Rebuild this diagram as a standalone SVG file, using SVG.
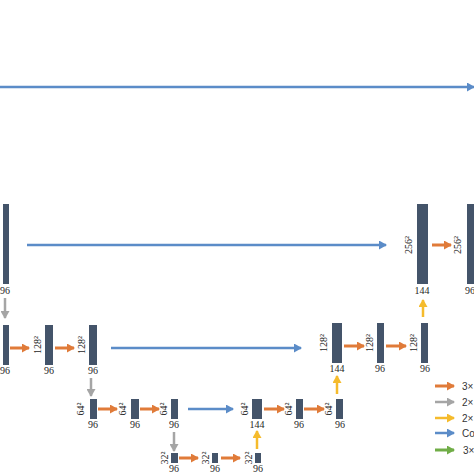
<svg xmlns="http://www.w3.org/2000/svg" width="474" height="474" viewBox="0 0 474 474">
<style>
.bar{fill:#44546a}
.n{font-family:"Liberation Serif",serif;font-size:10px;fill:#262626;text-anchor:middle}
.r{font-family:"Liberation Serif",serif;font-size:10px;fill:#262626;text-anchor:middle}
.lg{font-family:"Liberation Sans",sans-serif;font-size:10px;fill:#333}
.o{stroke:#e07b39;stroke-width:3;marker-end:url(#mo)}
.g{stroke:#a5a5a5;stroke-width:2.5;marker-end:url(#mg)}
.y{stroke:#f5bb2c;stroke-width:2.5;marker-end:url(#my)}
.b{stroke:#5b8cc8;stroke-width:2.5;marker-end:url(#mb)}
.gr{stroke:#70ad47;stroke-width:3;marker-end:url(#mgr)}
</style>
<defs>
<marker id="mo" markerUnits="userSpaceOnUse" markerWidth="8" markerHeight="9" refX="7" refY="4.5" orient="auto"><path d="M0,0 L8,4.5 L0,9 z" fill="#e07b39"/></marker>
<marker id="mg" markerUnits="userSpaceOnUse" markerWidth="8" markerHeight="9" refX="7" refY="4.5" orient="auto"><path d="M0,0 L8,4.5 L0,9 z" fill="#a5a5a5"/></marker>
<marker id="my" markerUnits="userSpaceOnUse" markerWidth="8" markerHeight="9" refX="7" refY="4.5" orient="auto"><path d="M0,0 L8,4.5 L0,9 z" fill="#f5bb2c"/></marker>
<marker id="mb" markerUnits="userSpaceOnUse" markerWidth="8" markerHeight="9" refX="7" refY="4.5" orient="auto"><path d="M0,0 L8,4.5 L0,9 z" fill="#5b8cc8"/></marker>
<marker id="mgr" markerUnits="userSpaceOnUse" markerWidth="8" markerHeight="9" refX="7" refY="4.5" orient="auto"><path d="M0,0 L8,4.5 L0,9 z" fill="#70ad47"/></marker>
</defs>
<rect width="474" height="474" fill="#fff"/>
<g id="connectors">
<line class="b" x1="0" y1="87" x2="474" y2="87"/>
<line class="b" x1="27" y1="245" x2="386" y2="245"/>
<line class="o" x1="432" y1="245" x2="451" y2="245"/>
<line class="g" x1="5" y1="298" x2="5" y2="318"/>
<line class="o" x1="10" y1="348" x2="29" y2="348"/>
<line class="o" x1="55" y1="348" x2="74" y2="348"/>
<line class="b" x1="111" y1="348" x2="301" y2="348"/>
<line class="o" x1="344" y1="346" x2="364" y2="346"/>
<line class="o" x1="386" y1="346" x2="406" y2="346"/>
<line class="y" x1="423" y1="317" x2="423" y2="300"/>
<line class="g" x1="91" y1="378" x2="91" y2="396"/>
<line class="o" x1="98" y1="409" x2="117" y2="409"/>
<line class="o" x1="140" y1="409" x2="159" y2="409"/>
<line class="b" x1="188" y1="409" x2="233" y2="409"/>
<line class="o" x1="264" y1="409" x2="284" y2="409"/>
<line class="o" x1="304" y1="409" x2="324" y2="409"/>
<line class="y" x1="337" y1="394" x2="337" y2="376"/>
<line class="g" x1="174" y1="432" x2="174" y2="451"/>
<line class="o" x1="179" y1="458" x2="198" y2="458"/>
<line class="o" x1="221" y1="458" x2="240" y2="458"/>
<line class="y" x1="257" y1="449" x2="257" y2="431"/>
</g>
<g id="n1a"><rect class="bar" x="3" y="204" width="6" height="80"/><text class="n" x="5" y="294">96</text></g>
<g id="n1b"><rect class="bar" x="417" y="204" width="11" height="80"/><text class="r" transform="translate(412,245) rotate(-90)">256²</text><text class="n" x="422" y="294">144</text></g>
<g id="n1c"><rect class="bar" x="467" y="204" width="8" height="80"/><text class="r" transform="translate(461,245) rotate(-90)">256²</text><text class="n" x="470" y="294">96</text></g>
<g id="n2a"><rect class="bar" x="3" y="325" width="6" height="40"/><text class="n" x="5" y="374">96</text></g>
<g id="n2b"><rect class="bar" x="45" y="325" width="8" height="40"/><text class="r" transform="translate(41,345) rotate(-90)">128²</text><text class="n" x="49" y="374">96</text></g>
<g id="n2c"><rect class="bar" x="89" y="325" width="8" height="40"/><text class="r" transform="translate(85,345) rotate(-90)">128²</text><text class="n" x="93" y="374">96</text></g>
<g id="n2d"><rect class="bar" x="332" y="323" width="10" height="40"/><text class="r" transform="translate(327,343) rotate(-90)">128²</text><text class="n" x="337" y="372">144</text></g>
<g id="n2e"><rect class="bar" x="377" y="323" width="7" height="40"/><text class="r" transform="translate(373,343) rotate(-90)">128²</text><text class="n" x="380" y="372">96</text></g>
<g id="n2f"><rect class="bar" x="421" y="323" width="7" height="40"/><text class="r" transform="translate(417,343) rotate(-90)">128²</text><text class="n" x="425" y="372">96</text></g>
<g id="n3a"><rect class="bar" x="90" y="399" width="7" height="20"/><text class="r" transform="translate(84,409) rotate(-90)">64²</text><text class="n" x="93" y="428">96</text></g>
<g id="n3b"><rect class="bar" x="131" y="399" width="8" height="20"/><text class="r" transform="translate(126,409) rotate(-90)">64²</text><text class="n" x="135" y="428">96</text></g>
<g id="n3c"><rect class="bar" x="171" y="399" width="7" height="20"/><text class="r" transform="translate(167,409) rotate(-90)">64²</text><text class="n" x="174" y="428">96</text></g>
<g id="n3d"><rect class="bar" x="252" y="399" width="10" height="20"/><text class="r" transform="translate(248,409) rotate(-90)">64²</text><text class="n" x="257" y="428">144</text></g>
<g id="n3e"><rect class="bar" x="296" y="399" width="7" height="20"/><text class="r" transform="translate(292,409) rotate(-90)">64²</text><text class="n" x="299" y="428">96</text></g>
<g id="n3f"><rect class="bar" x="336" y="399" width="7" height="20"/><text class="r" transform="translate(332,409) rotate(-90)">64²</text><text class="n" x="340" y="428">96</text></g>
<g id="n4a"><rect class="bar" x="171" y="453" width="7" height="10"/><text class="r" transform="translate(168,458) rotate(-90)">32²</text><text class="n" x="174" y="472">96</text></g>
<g id="n4b"><rect class="bar" x="212" y="453" width="6" height="10"/><text class="r" transform="translate(209,458) rotate(-90)">32²</text><text class="n" x="215" y="472">96</text></g>
<g id="n4c"><rect class="bar" x="255" y="453" width="6" height="10"/><text class="r" transform="translate(252,458) rotate(-90)">32²</text><text class="n" x="258" y="472">96</text></g>
<g id="legend">
<line class="o" x1="435" y1="386" x2="454" y2="386"/>
<line class="g" x1="435" y1="402" x2="454" y2="402"/>
<line class="y" x1="435" y1="418" x2="454" y2="418"/>
<line class="b" x1="435" y1="433" x2="454" y2="433"/>
<line class="gr" x1="435" y1="450" x2="454" y2="450"/>
<text class="lg" x="462" y="390">3×</text>
<text class="lg" x="462" y="406">2×</text>
<text class="lg" x="462" y="422">2×</text>
<text class="lg" x="462" y="437">Co</text>
<text class="lg" x="463" y="454">3×</text>
</g>
</svg>
